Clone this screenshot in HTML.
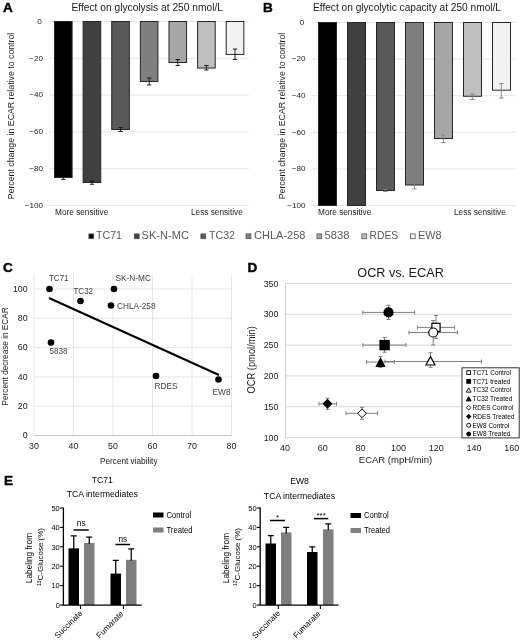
<!DOCTYPE html><html><head><meta charset="utf-8"><title>Figure</title>
<style>html,body{margin:0;padding:0;background:#fff}svg{display:block}text{font-family:"Liberation Sans",Arial,sans-serif}</style></head><body>
<svg width="520" height="642" viewBox="0 0 520 642">
<rect width="520" height="642" fill="#fff"/>
<text x="3.0" y="12.3" font-size="13.5" fill="#000" font-weight="bold" stroke="#000" stroke-width="0.45" >A</text>
<text x="71.5" y="11.2" font-size="10.2" fill="#1a1a1a" textLength="151.5" lengthAdjust="spacingAndGlyphs" >Effect on glycolysis at 250 nmol/L</text>
<line x1="49" x2="249" y1="21.50" y2="21.50" stroke="#e6e6e6" stroke-width="1"/>
<text x="41.8" y="23.8" font-size="8.1" text-anchor="end" fill="#1a1a1a" >0</text>
<line x1="49" x2="249" y1="58.30" y2="58.30" stroke="#e6e6e6" stroke-width="1"/>
<text x="43" y="60.6" font-size="8.1" text-anchor="end" fill="#1a1a1a" >−20</text>
<line x1="49" x2="249" y1="95.10" y2="95.10" stroke="#e6e6e6" stroke-width="1"/>
<text x="43" y="97.4" font-size="8.1" text-anchor="end" fill="#1a1a1a" >−40</text>
<line x1="49" x2="249" y1="131.90" y2="131.90" stroke="#e6e6e6" stroke-width="1"/>
<text x="43" y="134.2" font-size="8.1" text-anchor="end" fill="#1a1a1a" >−60</text>
<line x1="49" x2="249" y1="168.70" y2="168.70" stroke="#e6e6e6" stroke-width="1"/>
<text x="43" y="171.0" font-size="8.1" text-anchor="end" fill="#1a1a1a" >−80</text>
<line x1="49" x2="249" y1="205.50" y2="205.50" stroke="#e6e6e6" stroke-width="1"/>
<text x="43" y="207.8" font-size="8.1" text-anchor="end" fill="#1a1a1a" >−100</text>
<rect x="54.50" y="21.5" width="17.6" height="156.03" fill="#000000" stroke="#262626" stroke-width="1"/>
<path d="M63.3 176V179.4M61.099999999999994 176h4.4M61.099999999999994 179.4h4.4" stroke="#111" stroke-width="0.9" fill="none"/>
<rect x="83.12" y="21.5" width="17.6" height="161.00" fill="#404040" stroke="#262626" stroke-width="1"/>
<path d="M91.92 181V184.3M89.72 181h4.4M89.72 184.3h4.4" stroke="#111" stroke-width="0.9" fill="none"/>
<rect x="111.74" y="21.5" width="17.6" height="108.01" fill="#595959" stroke="#262626" stroke-width="1"/>
<path d="M120.54 127.5V131.5M118.34 127.5h4.4M118.34 131.5h4.4" stroke="#111" stroke-width="0.9" fill="none"/>
<rect x="140.36" y="21.5" width="17.6" height="59.98" fill="#7f7f7f" stroke="#262626" stroke-width="1"/>
<path d="M149.16 78V85M146.96 78h4.4M146.96 85h4.4" stroke="#111" stroke-width="0.9" fill="none"/>
<rect x="168.98" y="21.5" width="17.6" height="41.03" fill="#a6a6a6" stroke="#262626" stroke-width="1"/>
<path d="M177.78 59.5V65.5M175.58 59.5h4.4M175.58 65.5h4.4" stroke="#111" stroke-width="0.9" fill="none"/>
<rect x="197.60" y="21.5" width="17.6" height="46.55" fill="#bfbfbf" stroke="#262626" stroke-width="1"/>
<path d="M206.4 65.5V70M204.20000000000002 65.5h4.4M204.20000000000002 70h4.4" stroke="#111" stroke-width="0.9" fill="none"/>
<rect x="226.22" y="21.5" width="17.6" height="32.94" fill="#f2f2f2" stroke="#262626" stroke-width="1"/>
<path d="M235.02 49V59.5M232.82000000000002 49h4.4M232.82000000000002 59.5h4.4" stroke="#111" stroke-width="0.9" fill="none"/>
<text x="14.2" y="116" font-size="8.76" text-anchor="middle" fill="#1a1a1a" textLength="166.6" lengthAdjust="spacingAndGlyphs" transform="rotate(-90 14.2 116)" >Percent change in ECAR relative to control</text>
<text x="55" y="214.5" font-size="8.3" fill="#1a1a1a" textLength="53.3" lengthAdjust="spacingAndGlyphs" >More sensitive</text>
<text x="191" y="214.5" font-size="8.3" fill="#1a1a1a" textLength="51.8" lengthAdjust="spacingAndGlyphs" >Less sensitive</text>
<text x="263.0" y="12.3" font-size="13.5" fill="#000" font-weight="bold" stroke="#000" stroke-width="0.45" >B</text>
<text x="313" y="11.2" font-size="10.2" fill="#1a1a1a" textLength="188" lengthAdjust="spacingAndGlyphs" >Effect on glycolytic capacity at 250 nmol/L</text>
<line x1="311" x2="516" y1="22.50" y2="22.50" stroke="#e6e6e6" stroke-width="1"/>
<text x="304.3" y="24.8" font-size="8.1" text-anchor="end" fill="#1a1a1a" >0</text>
<line x1="311" x2="516" y1="59.10" y2="59.10" stroke="#e6e6e6" stroke-width="1"/>
<text x="305.5" y="61.4" font-size="8.1" text-anchor="end" fill="#1a1a1a" >−20</text>
<line x1="311" x2="516" y1="95.70" y2="95.70" stroke="#e6e6e6" stroke-width="1"/>
<text x="305.5" y="98.0" font-size="8.1" text-anchor="end" fill="#1a1a1a" >−40</text>
<line x1="311" x2="516" y1="132.30" y2="132.30" stroke="#e6e6e6" stroke-width="1"/>
<text x="305.5" y="134.6" font-size="8.1" text-anchor="end" fill="#1a1a1a" >−60</text>
<line x1="311" x2="516" y1="168.90" y2="168.90" stroke="#e6e6e6" stroke-width="1"/>
<text x="305.5" y="171.2" font-size="8.1" text-anchor="end" fill="#1a1a1a" >−80</text>
<line x1="311" x2="516" y1="205.50" y2="205.50" stroke="#e6e6e6" stroke-width="1"/>
<text x="305.5" y="207.8" font-size="8.1" text-anchor="end" fill="#1a1a1a" >−100</text>
<rect x="318.50" y="22.5" width="18" height="183.00" fill="#000000" stroke="#262626" stroke-width="1"/>
<rect x="347.50" y="22.5" width="18" height="183.00" fill="#404040" stroke="#262626" stroke-width="1"/>
<rect x="376.50" y="22.5" width="18" height="167.99" fill="#595959" stroke="#262626" stroke-width="1"/>
<path d="M385.3 189.5V191.5M383.1 189.5h4.4M383.1 191.5h4.4" stroke="#808080" stroke-width="0.9" fill="none"/>
<rect x="405.50" y="22.5" width="18" height="162.50" fill="#7f7f7f" stroke="#262626" stroke-width="1"/>
<path d="M414.3 180.5V189M412.1 180.5h4.4M412.1 189h4.4" stroke="#808080" stroke-width="0.9" fill="none"/>
<rect x="434.50" y="22.5" width="18" height="116.02" fill="#a6a6a6" stroke="#262626" stroke-width="1"/>
<path d="M443.3 135V142.5M441.1 135h4.4M441.1 142.5h4.4" stroke="#808080" stroke-width="0.9" fill="none"/>
<rect x="463.50" y="22.5" width="18" height="73.75" fill="#bfbfbf" stroke="#262626" stroke-width="1"/>
<path d="M472.3 94V99.5M470.1 94h4.4M470.1 99.5h4.4" stroke="#808080" stroke-width="0.9" fill="none"/>
<rect x="492.50" y="22.5" width="18" height="67.71" fill="#f2f2f2" stroke="#262626" stroke-width="1"/>
<path d="M501.3 83.5V98M499.1 83.5h4.4M499.1 98h4.4" stroke="#808080" stroke-width="0.9" fill="none"/>
<text x="285" y="116" font-size="8.76" text-anchor="middle" fill="#1a1a1a" textLength="166.6" lengthAdjust="spacingAndGlyphs" transform="rotate(-90 285 116)" >Percent change in ECAR relative to control</text>
<text x="318" y="215" font-size="8.3" fill="#1a1a1a" textLength="53.3" lengthAdjust="spacingAndGlyphs" >More sensitive</text>
<text x="454" y="215" font-size="8.3" fill="#1a1a1a" textLength="51.8" lengthAdjust="spacingAndGlyphs" >Less sensitive</text>
<rect x="88.9" y="233.9" width="4.8" height="4.8" fill="#000000" stroke="#555" stroke-width="0.8"/>
<text x="96" y="239.2" font-size="10.4" fill="#595959" textLength="26" lengthAdjust="spacingAndGlyphs" >TC71</text>
<rect x="134.4" y="233.9" width="4.8" height="4.8" fill="#404040" stroke="#555" stroke-width="0.8"/>
<text x="141.5" y="239.2" font-size="10.4" fill="#595959" textLength="47.5" lengthAdjust="spacingAndGlyphs" >SK-N-MC</text>
<rect x="200.9" y="233.9" width="4.8" height="4.8" fill="#595959" stroke="#555" stroke-width="0.8"/>
<text x="209" y="239.2" font-size="10.4" fill="#595959" textLength="26" lengthAdjust="spacingAndGlyphs" >TC32</text>
<rect x="246.1" y="233.9" width="4.8" height="4.8" fill="#7f7f7f" stroke="#555" stroke-width="0.8"/>
<text x="254" y="239.2" font-size="10.4" fill="#595959" textLength="51.5" lengthAdjust="spacingAndGlyphs" >CHLA-258</text>
<rect x="316.9" y="233.9" width="4.8" height="4.8" fill="#a6a6a6" stroke="#555" stroke-width="0.8"/>
<text x="324.5" y="239.2" font-size="10.4" fill="#595959" textLength="25" lengthAdjust="spacingAndGlyphs" >5838</text>
<rect x="361.9" y="233.9" width="4.8" height="4.8" fill="#bfbfbf" stroke="#555" stroke-width="0.8"/>
<text x="369.5" y="239.2" font-size="10.4" fill="#595959" textLength="28.7" lengthAdjust="spacingAndGlyphs" >RDES</text>
<rect x="410.4" y="233.9" width="4.8" height="4.8" fill="#f2f2f2" stroke="#555" stroke-width="0.8"/>
<text x="418" y="239.2" font-size="10.4" fill="#595959" textLength="23.5" lengthAdjust="spacingAndGlyphs" >EW8</text>
<text x="3" y="271.5" font-size="13.5" fill="#000" font-weight="bold" stroke="#000" stroke-width="0.45" >C</text>
<line x1="34.0" x2="34.0" y1="274" y2="435.5" stroke="#e6e6e6" stroke-width="1"/>
<text x="34.0" y="448.5" font-size="8.8" text-anchor="middle" fill="#1a1a1a" >30</text>
<line x1="73.5" x2="73.5" y1="274" y2="435.5" stroke="#e6e6e6" stroke-width="1"/>
<text x="73.5" y="448.5" font-size="8.8" text-anchor="middle" fill="#1a1a1a" >40</text>
<line x1="113.0" x2="113.0" y1="274" y2="435.5" stroke="#e6e6e6" stroke-width="1"/>
<text x="113.0" y="448.5" font-size="8.8" text-anchor="middle" fill="#1a1a1a" >50</text>
<line x1="152.5" x2="152.5" y1="274" y2="435.5" stroke="#e6e6e6" stroke-width="1"/>
<text x="152.5" y="448.5" font-size="8.8" text-anchor="middle" fill="#1a1a1a" >60</text>
<line x1="192.0" x2="192.0" y1="274" y2="435.5" stroke="#e6e6e6" stroke-width="1"/>
<text x="192.0" y="448.5" font-size="8.8" text-anchor="middle" fill="#1a1a1a" >70</text>
<line x1="231.5" x2="231.5" y1="274" y2="435.5" stroke="#e6e6e6" stroke-width="1"/>
<text x="231.5" y="448.5" font-size="8.8" text-anchor="middle" fill="#1a1a1a" >80</text>
<line x1="34" x2="231.5" y1="435.50" y2="435.50" stroke="#e6e6e6" stroke-width="1"/>
<text x="27.6" y="438.3" font-size="8.8" text-anchor="end" fill="#1a1a1a" >0</text>
<line x1="34" x2="231.5" y1="406.20" y2="406.20" stroke="#e6e6e6" stroke-width="1"/>
<text x="27.6" y="409.0" font-size="8.8" text-anchor="end" fill="#1a1a1a" >20</text>
<line x1="34" x2="231.5" y1="376.90" y2="376.90" stroke="#e6e6e6" stroke-width="1"/>
<text x="27.6" y="379.7" font-size="8.8" text-anchor="end" fill="#1a1a1a" >40</text>
<line x1="34" x2="231.5" y1="347.60" y2="347.60" stroke="#e6e6e6" stroke-width="1"/>
<text x="27.6" y="350.4" font-size="8.8" text-anchor="end" fill="#1a1a1a" >60</text>
<line x1="34" x2="231.5" y1="318.30" y2="318.30" stroke="#e6e6e6" stroke-width="1"/>
<text x="27.6" y="321.1" font-size="8.8" text-anchor="end" fill="#1a1a1a" >80</text>
<line x1="34" x2="231.5" y1="289.00" y2="289.00" stroke="#e6e6e6" stroke-width="1"/>
<text x="27.6" y="291.8" font-size="8.8" text-anchor="end" fill="#1a1a1a" >100</text>
<line x1="34" x2="231.5" y1="435.5" y2="435.5" stroke="#c8c8c8" stroke-width="1"/>
<line x1="49" y1="298" x2="219" y2="375" stroke="#000" stroke-width="2"/>
<circle cx="49.5" cy="289" r="3.3" fill="#000"/>
<circle cx="80.5" cy="301" r="3.3" fill="#000"/>
<circle cx="114" cy="289" r="3.3" fill="#000"/>
<circle cx="111" cy="305.5" r="3.3" fill="#000"/>
<circle cx="51" cy="342.5" r="3.3" fill="#000"/>
<circle cx="156" cy="376" r="3.3" fill="#000"/>
<circle cx="218.5" cy="379.5" r="3.3" fill="#000"/>
<text x="49" y="281" font-size="8.6" fill="#404040" textLength="19.5" lengthAdjust="spacingAndGlyphs" >TC71</text>
<text x="73.5" y="294" font-size="8.6" fill="#404040" textLength="19.5" lengthAdjust="spacingAndGlyphs" >TC32</text>
<text x="115.5" y="281" font-size="8.6" fill="#404040" textLength="35.5" lengthAdjust="spacingAndGlyphs" >SK-N-MC</text>
<text x="117" y="308.5" font-size="8.6" fill="#404040" textLength="38.5" lengthAdjust="spacingAndGlyphs" >CHLA-258</text>
<text x="49.5" y="353.5" font-size="8.6" fill="#404040" textLength="18" lengthAdjust="spacingAndGlyphs" >5838</text>
<text x="154.5" y="388.5" font-size="8.6" fill="#404040" textLength="23" lengthAdjust="spacingAndGlyphs" >RDES</text>
<text x="212.5" y="394.5" font-size="8.6" fill="#404040" textLength="18" lengthAdjust="spacingAndGlyphs" >EW8</text>
<text x="7.6" y="356.4" font-size="8.3" text-anchor="middle" fill="#1a1a1a" textLength="98" lengthAdjust="spacingAndGlyphs" transform="rotate(-90 7.6 356.4)" >Percent decrease in ECAR</text>
<text x="100" y="464" font-size="8.3" fill="#1a1a1a" textLength="57.5" lengthAdjust="spacingAndGlyphs" >Percent viability</text>
<text x="247.5" y="271.5" font-size="13.5" fill="#000" font-weight="bold" stroke="#000" stroke-width="0.45" >D</text>
<text x="357.3" y="276.8" font-size="12.8" fill="#1a1a1a" textLength="86.5" lengthAdjust="spacingAndGlyphs" >OCR vs. ECAR</text>
<line x1="285" x2="512" y1="437.50" y2="437.50" stroke="#d9d9d9" stroke-width="1"/>
<text x="278.4" y="440.6" font-size="8.8" text-anchor="end" fill="#1a1a1a" >100</text>
<line x1="285" x2="512" y1="406.70" y2="406.70" stroke="#d9d9d9" stroke-width="1"/>
<text x="278.4" y="409.8" font-size="8.8" text-anchor="end" fill="#1a1a1a" >150</text>
<line x1="285" x2="512" y1="375.90" y2="375.90" stroke="#d9d9d9" stroke-width="1"/>
<text x="278.4" y="379.0" font-size="8.8" text-anchor="end" fill="#1a1a1a" >200</text>
<line x1="285" x2="512" y1="345.10" y2="345.10" stroke="#d9d9d9" stroke-width="1"/>
<text x="278.4" y="348.2" font-size="8.8" text-anchor="end" fill="#1a1a1a" >250</text>
<line x1="285" x2="512" y1="314.30" y2="314.30" stroke="#d9d9d9" stroke-width="1"/>
<text x="278.4" y="317.4" font-size="8.8" text-anchor="end" fill="#1a1a1a" >300</text>
<line x1="285" x2="512" y1="283.50" y2="283.50" stroke="#d9d9d9" stroke-width="1"/>
<text x="278.4" y="286.6" font-size="8.8" text-anchor="end" fill="#1a1a1a" >350</text>
<line x1="285.5" x2="285.5" y1="283.5" y2="437.5" stroke="#d0d0d0" stroke-width="1"/>
<text x="285.0" y="451" font-size="9" text-anchor="middle" fill="#1a1a1a" >40</text>
<text x="322.8" y="451" font-size="9" text-anchor="middle" fill="#1a1a1a" >60</text>
<text x="360.6" y="451" font-size="9" text-anchor="middle" fill="#1a1a1a" >80</text>
<text x="398.4" y="451" font-size="9" text-anchor="middle" fill="#1a1a1a" >100</text>
<text x="436.2" y="451" font-size="9" text-anchor="middle" fill="#1a1a1a" >120</text>
<text x="474.0" y="451" font-size="9" text-anchor="middle" fill="#1a1a1a" >140</text>
<text x="511.8" y="451" font-size="9" text-anchor="middle" fill="#1a1a1a" >160</text>
<text x="395.5" y="463" font-size="9.5" text-anchor="middle" fill="#1a1a1a" >ECAR (mpH/min)</text>
<text x="255.2" y="359.8" font-size="10" text-anchor="middle" fill="#1a1a1a" textLength="67.5" lengthAdjust="spacingAndGlyphs" transform="rotate(-90 255.2 359.8)" >OCR (pmol/min)</text>
<path d="M362.8 312.4H414.6M362.8 310.4v4M414.6 310.4v4M388.5 305.3V319.5M386.5 305.3h4M386.5 319.5h4" stroke="#7f7f7f" stroke-width="1" fill="none"/>
<path d="M417.4 327.4H454.6M417.4 325.4v4M454.6 325.4v4M436 315.5V338.5M434 315.5h4M434 338.5h4" stroke="#7f7f7f" stroke-width="1" fill="none"/>
<path d="M409 332.5H457.5M409 330.5v4M457.5 330.5v4M433.2 320.5V345M431.2 320.5h4M431.2 345h4" stroke="#7f7f7f" stroke-width="1" fill="none"/>
<path d="M362.8 345.1H406M362.8 343.1v4M406 343.1v4M384.6 337.5V352.2M382.6 337.5h4M382.6 352.2h4" stroke="#7f7f7f" stroke-width="1" fill="none"/>
<path d="M385 361.5H481.5M385 359.5v4M481.5 359.5v4M430.5 352.7V367.3M428.5 352.7h4M428.5 367.3h4" stroke="#7f7f7f" stroke-width="1" fill="none"/>
<path d="M366.6 362H394.3M366.6 360v4M394.3 360v4M380.5 356.5V367.5M378.5 356.5h4M378.5 367.5h4" stroke="#7f7f7f" stroke-width="1" fill="none"/>
<path d="M319 403.8H336.5M319 401.8v4M336.5 401.8v4M327.5 398.3V409.3M325.5 398.3h4M325.5 409.3h4" stroke="#7f7f7f" stroke-width="1" fill="none"/>
<path d="M346 413.3H377.5M346 411.3v4M377.5 411.3v4M362 407.3V419.3M360 407.3h4M360 419.3h4" stroke="#7f7f7f" stroke-width="1" fill="none"/>
<circle cx="388.5" cy="312.4" r="5.1" fill="#000"/>
<rect x="431.9" y="323.3" width="8.2" height="8.2" fill="#fff" stroke="#000" stroke-width="1.2"/>
<circle cx="433.2" cy="332.5" r="4.5" fill="#fff" stroke="#000" stroke-width="1.2"/>
<rect x="379.4" y="339.9" width="10.4" height="10.4" fill="#000"/>
<path d="M430.5 356.6L435 365H426Z" fill="#fff" stroke="#000" stroke-width="1.2"/>
<path d="M380.5 357L385.6 367H375.4Z" fill="#000"/>
<path d="M327.5 398.8L332.5 403.8L327.5 408.8L322.5 403.8Z" fill="#000"/>
<path d="M362 408.9L366.4 413.3L362 417.7L357.6 413.3Z" fill="#fff" stroke="#000" stroke-width="1"/>
<rect x="462" y="367.8" width="57.2" height="70.1" fill="#fff" stroke="#333" stroke-width="1"/>
<rect x="466.8" y="370.70" width="3.8" height="3.8" fill="#fff" stroke="#000" stroke-width="0.9"/>
<text x="472.5" y="374.9" font-size="6.5" fill="#000" >TC71 Control</text>
<rect x="466.8" y="379.48" width="3.8" height="3.8" fill="#000" stroke="#000" stroke-width="0.9"/>
<text x="472.5" y="383.68" font-size="6.5" fill="#000" >TC71 treated</text>
<path d="M468.7 387.86L471.09999999999997 392.16H466.3Z" fill="#fff" stroke="#000" stroke-width="0.9"/>
<text x="472.5" y="392.46" font-size="6.5" fill="#000" >TC32 Control</text>
<path d="M468.7 396.64L471.09999999999997 400.94H466.3Z" fill="#000" stroke="#000" stroke-width="0.9"/>
<text x="472.5" y="401.24" font-size="6.5" fill="#000" >TC32 Treated</text>
<path d="M468.7 405.42L471.0 407.72L468.7 410.02L466.4 407.72Z" fill="#fff" stroke="#000" stroke-width="0.9"/>
<text x="472.5" y="410.02" font-size="6.5" fill="#000" >RDES Control</text>
<path d="M468.7 414.20L471.0 416.50L468.7 418.80L466.4 416.50Z" fill="#000" stroke="#000" stroke-width="0.9"/>
<text x="472.5" y="418.8" font-size="6.5" fill="#000" >RDES Treated</text>
<circle cx="468.7" cy="425.28" r="2" fill="#fff" stroke="#000" stroke-width="0.9"/>
<text x="472.5" y="427.58" font-size="6.5" fill="#000" >EW8 Control</text>
<circle cx="468.7" cy="434.06" r="2" fill="#000" stroke="#000" stroke-width="0.9"/>
<text x="472.5" y="436.36" font-size="6.5" fill="#000" >EW8 Treated</text>
<text x="4" y="484.5" font-size="13.5" fill="#000" font-weight="bold" stroke="#000" stroke-width="0.45" >E</text>
<text x="102.3" y="482.6" font-size="8.6" text-anchor="middle" fill="#000" >TC71</text>
<text x="102.3" y="496.7" font-size="8.6" text-anchor="middle" fill="#000" textLength="71.3" lengthAdjust="spacingAndGlyphs" >TCA intermediates</text>
<rect x="68.5" y="548.35" width="10.5" height="56.65" fill="#000"/>
<path d="M73.75 549.35V535.94M70.75 535.94h6" stroke="#000" stroke-width="1.25" fill="none"/>
<rect x="84" y="542.92" width="10.5" height="62.08" fill="#7f7f7f"/>
<path d="M89.25 543.92V537.10M86.25 537.10h6" stroke="#000" stroke-width="1.25" fill="none"/>
<rect x="110.5" y="573.57" width="10.5" height="31.43" fill="#000"/>
<path d="M115.75 574.57V560.38M112.75 560.38h6" stroke="#000" stroke-width="1.25" fill="none"/>
<rect x="126" y="559.80" width="10.5" height="45.20" fill="#7f7f7f"/>
<path d="M131.25 560.80V548.93M128.25 548.93h6" stroke="#000" stroke-width="1.25" fill="none"/>
<path d="M63.4 507.5V605.2H141.7" stroke="#000" stroke-width="1.3" fill="none"/>
<line x1="60.1" x2="63.4" y1="605.00" y2="605.00" stroke="#000" stroke-width="1.1"/>
<text x="59.8" y="607.7" font-size="7.5" text-anchor="end" fill="#000" >0</text>
<line x1="60.1" x2="63.4" y1="585.60" y2="585.60" stroke="#000" stroke-width="1.1"/>
<text x="59.8" y="588.3" font-size="7.5" text-anchor="end" fill="#000" >10</text>
<line x1="60.1" x2="63.4" y1="566.20" y2="566.20" stroke="#000" stroke-width="1.1"/>
<text x="59.8" y="568.9" font-size="7.5" text-anchor="end" fill="#000" >20</text>
<line x1="60.1" x2="63.4" y1="546.80" y2="546.80" stroke="#000" stroke-width="1.1"/>
<text x="59.8" y="549.5" font-size="7.5" text-anchor="end" fill="#000" >30</text>
<line x1="60.1" x2="63.4" y1="527.40" y2="527.40" stroke="#000" stroke-width="1.1"/>
<text x="59.8" y="530.1" font-size="7.5" text-anchor="end" fill="#000" >40</text>
<line x1="60.1" x2="63.4" y1="508.00" y2="508.00" stroke="#000" stroke-width="1.1"/>
<text x="59.8" y="510.7" font-size="7.5" text-anchor="end" fill="#000" >50</text>
<line x1="80.5" x2="80.5" y1="605" y2="609" stroke="#000" stroke-width="1.1"/>
<line x1="123.5" x2="123.5" y1="605" y2="609" stroke="#000" stroke-width="1.1"/>
<line x1="73.7" x2="88.7" y1="530" y2="530" stroke="#000" stroke-width="1.5"/>
<text x="81.2" y="526" font-size="8.2" text-anchor="middle" fill="#000" >ns</text>
<line x1="115.5" x2="130" y1="544.5" y2="544.5" stroke="#000" stroke-width="1.5"/>
<text x="122.75" y="541.8" font-size="8.2" text-anchor="middle" fill="#000" >ns</text>
<text x="82.9" y="613.8" font-size="8.1" text-anchor="end" fill="#000" transform="rotate(-45 82.9 613.8)" >Succinate</text>
<text x="124.0" y="614.2" font-size="8.1" text-anchor="end" fill="#000" transform="rotate(-45 124.0 614.2)" >Fumarate</text>
<text x="32.4" y="558" font-size="8.3" text-anchor="middle" fill="#000" transform="rotate(-90 32.4 558)" >Labeling from</text>
<text x="43" y="557" font-size="8" text-anchor="middle" fill="#000" transform="rotate(-90 43 557)"><tspan font-size="5" dy="-2.5">13</tspan><tspan dy="2.5">C-Glucose (%)</tspan></text>
<rect x="153" y="512.5" width="10.5" height="5" fill="#000"/>
<text x="166.5" y="517.9" font-size="8.3" fill="#000" textLength="24.6" lengthAdjust="spacingAndGlyphs" >Control</text>
<rect x="153" y="527.5" width="10.5" height="5" fill="#7f7f7f"/>
<text x="166.5" y="532.9" font-size="8.3" fill="#000" textLength="26" lengthAdjust="spacingAndGlyphs" >Treated</text>
<text x="299.5" y="484.2" font-size="8.6" text-anchor="middle" fill="#000" >EW8</text>
<text x="299.5" y="498.5" font-size="8.6" text-anchor="middle" fill="#000" textLength="71.3" lengthAdjust="spacingAndGlyphs" >TCA intermediates</text>
<rect x="265.5" y="543.50" width="10.5" height="61.50" fill="#000"/>
<path d="M270.75 544.50V535.55M267.75 535.55h6" stroke="#000" stroke-width="1.25" fill="none"/>
<rect x="281" y="532.44" width="10.5" height="72.56" fill="#7f7f7f"/>
<path d="M286.25 533.44V527.40M283.25 527.40h6" stroke="#000" stroke-width="1.25" fill="none"/>
<rect x="307" y="552.04" width="10.5" height="52.96" fill="#000"/>
<path d="M312.25 553.04V546.99M309.25 546.99h6" stroke="#000" stroke-width="1.25" fill="none"/>
<rect x="323" y="529.34" width="10.5" height="75.66" fill="#7f7f7f"/>
<path d="M328.25 530.34V523.91M325.25 523.91h6" stroke="#000" stroke-width="1.25" fill="none"/>
<path d="M260.2 507.5V605.2H338.5" stroke="#000" stroke-width="1.3" fill="none"/>
<line x1="256.9" x2="260.2" y1="605.00" y2="605.00" stroke="#000" stroke-width="1.1"/>
<text x="256.59999999999997" y="607.7" font-size="7.5" text-anchor="end" fill="#000" >0</text>
<line x1="256.9" x2="260.2" y1="585.60" y2="585.60" stroke="#000" stroke-width="1.1"/>
<text x="256.59999999999997" y="588.3" font-size="7.5" text-anchor="end" fill="#000" >10</text>
<line x1="256.9" x2="260.2" y1="566.20" y2="566.20" stroke="#000" stroke-width="1.1"/>
<text x="256.59999999999997" y="568.9" font-size="7.5" text-anchor="end" fill="#000" >20</text>
<line x1="256.9" x2="260.2" y1="546.80" y2="546.80" stroke="#000" stroke-width="1.1"/>
<text x="256.59999999999997" y="549.5" font-size="7.5" text-anchor="end" fill="#000" >30</text>
<line x1="256.9" x2="260.2" y1="527.40" y2="527.40" stroke="#000" stroke-width="1.1"/>
<text x="256.59999999999997" y="530.1" font-size="7.5" text-anchor="end" fill="#000" >40</text>
<line x1="256.9" x2="260.2" y1="508.00" y2="508.00" stroke="#000" stroke-width="1.1"/>
<text x="256.59999999999997" y="510.7" font-size="7.5" text-anchor="end" fill="#000" >50</text>
<line x1="278.3" x2="278.3" y1="605" y2="609" stroke="#000" stroke-width="1.1"/>
<line x1="320.4" x2="320.4" y1="605" y2="609" stroke="#000" stroke-width="1.1"/>
<line x1="270" x2="285" y1="520.5" y2="520.5" stroke="#000" stroke-width="1.5"/>
<text x="277.5" y="520.2" font-size="8" text-anchor="middle" fill="#000" >*</text>
<line x1="314" x2="328.3" y1="518.6" y2="518.6" stroke="#000" stroke-width="1.5"/>
<text x="321.15" y="517.6" font-size="8" text-anchor="middle" fill="#000" >***</text>
<text x="280.7" y="613.8" font-size="8.1" text-anchor="end" fill="#000" transform="rotate(-45 280.7 613.8)" >Succinate</text>
<text x="320.9" y="614.2" font-size="8.1" text-anchor="end" fill="#000" transform="rotate(-45 320.9 614.2)" >Fumarate</text>
<text x="229" y="558" font-size="8.3" text-anchor="middle" fill="#000" transform="rotate(-90 229 558)" >Labeling from</text>
<text x="239.6" y="557" font-size="8" text-anchor="middle" fill="#000" transform="rotate(-90 239.6 557)"><tspan font-size="5" dy="-2.5">13</tspan><tspan dy="2.5">C-Glucose (%)</tspan></text>
<rect x="350.5" y="513" width="10.5" height="5" fill="#000"/>
<text x="364.0" y="518.4" font-size="8.3" fill="#000" textLength="24.6" lengthAdjust="spacingAndGlyphs" >Control</text>
<rect x="350.5" y="528" width="10.5" height="5" fill="#7f7f7f"/>
<text x="364.0" y="533.4" font-size="8.3" fill="#000" textLength="26" lengthAdjust="spacingAndGlyphs" >Treated</text>
</svg></body></html>
